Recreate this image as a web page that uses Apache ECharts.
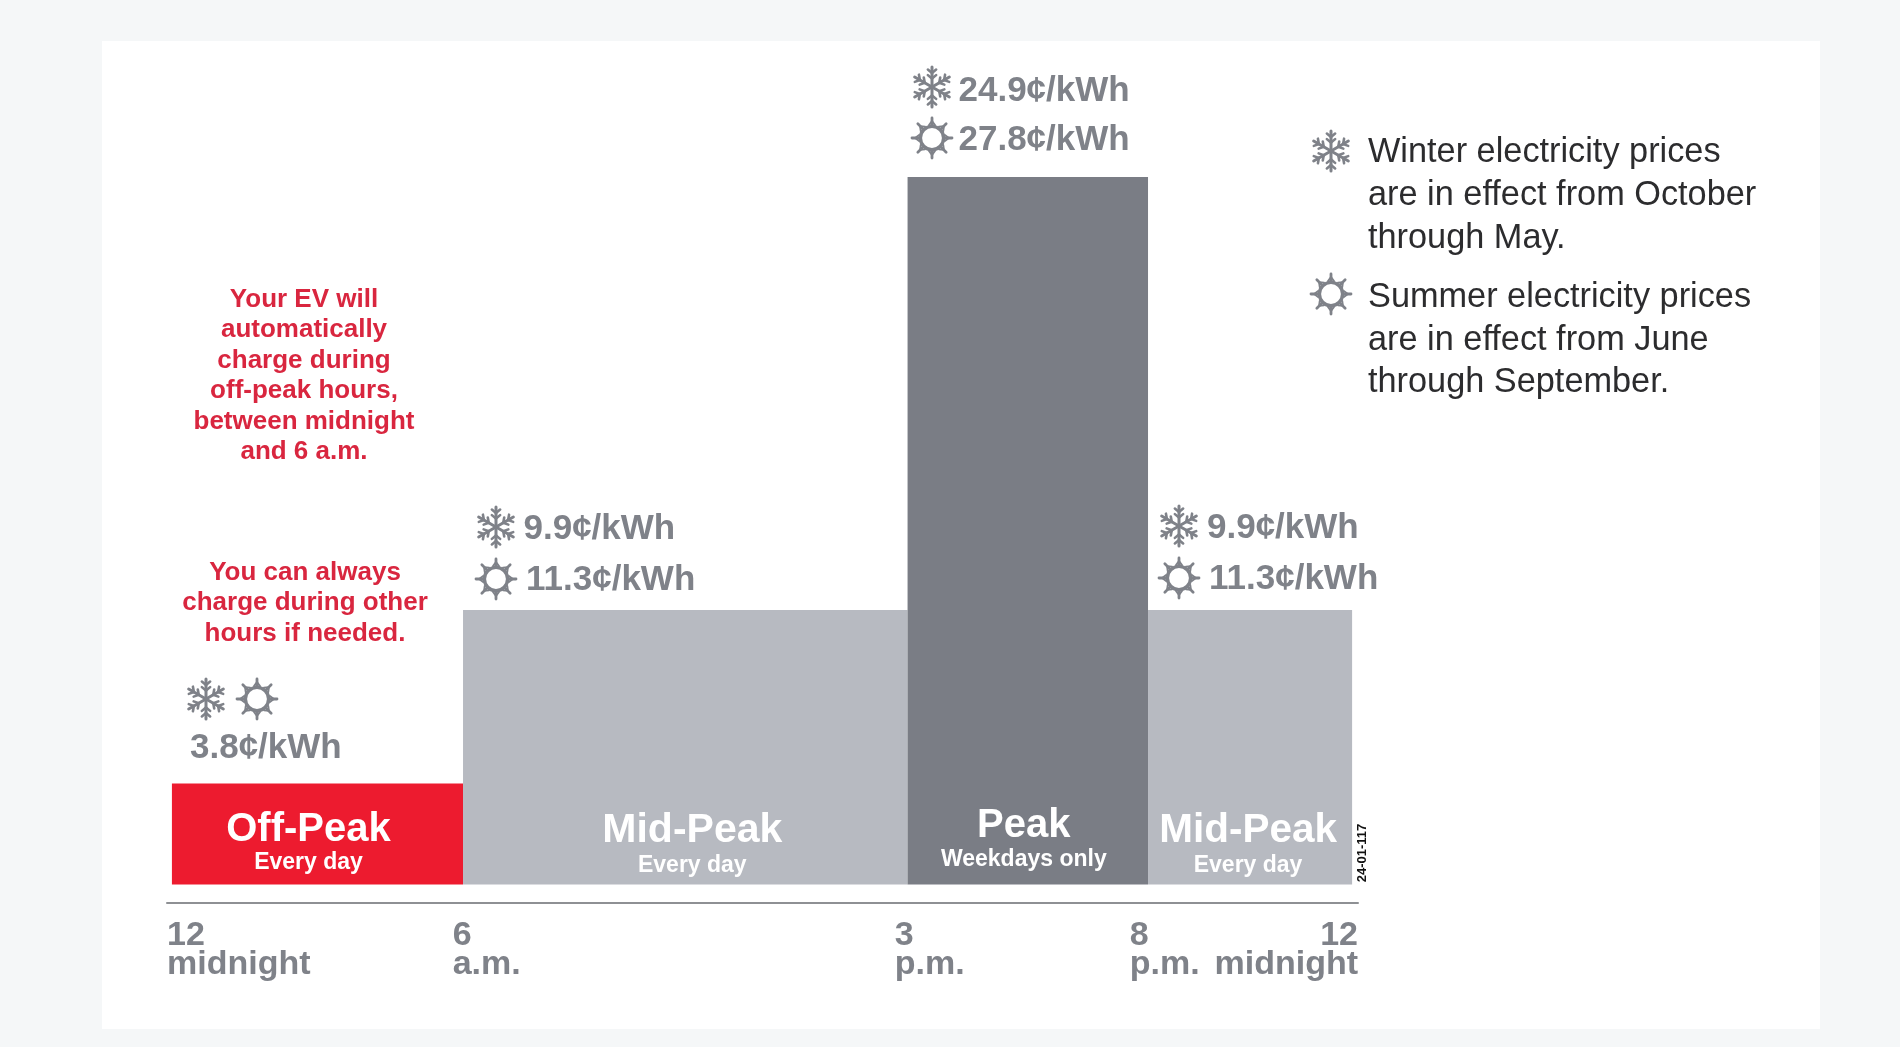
<!DOCTYPE html>
<html><head><meta charset="utf-8">
<style>html,body{margin:0;padding:0;background:#f5f7f8}#c{width:1900px;height:1047px}</style>
<script src="https://cdn.jsdelivr.net/npm/echarts@6/dist/echarts.min.js"></script>
</head><body><div id="c"></div>
<script>
// Segment edges in hours, as plotted in the picture
const segStart = [0, 5.92, 14.96, 19.85];
const segEnd = [5.92, 14.96, 19.85, 24];
// Unlabelled bar heights, read on a scale where the peak bar reaches the 27.8 price
const barHeight = [3.97, 10.79, 27.8, 10.79];
const segNames = ['Off-Peak', 'Mid-Peak', 'Peak', 'Mid-Peak'];
const segNotes = ['Every day', 'Every day', 'Weekdays only', 'Every day'];
// Tick labels and the hours where they start in the picture
const tickHours = [-0.1, 5.71, 14.7, 19.48, 24.12];
const tickLabels = ['12\nmidnight', '6\na.m.', '3\np.m.', '8\np.m.', '12\nmidnight'];
// Prices printed in the picture
const winterPrices = ['3.8¢/kWh', '9.9¢/kWh', '24.9¢/kWh', '9.9¢/kWh'];
const summerPrices = ['3.8¢/kWh', '11.3¢/kWh', '27.8¢/kWh', '11.3¢/kWh'];
const noteOne = 'Your EV will\nautomatically\ncharge during\noff-peak hours,\nbetween midnight\nand 6 a.m.';
const noteTwo = 'You can always\ncharge during other\nhours if needed.';
const legendWinter = 'Winter electricity prices\nare in effect from October\nthrough May.';
const legendSummer = 'Summer electricity prices\nare in effect from June\nthrough September.';
const figureCode = '24-01-117';

const FONT = '"Liberation Sans", Arial, sans-serif';
const GREY = '#7f8289';
const barColors = ['#ed1b2f', '#b7bac1', '#7a7d85', '#b7bac1'];
const nameDx = [-9, 7, -4, -2];
const nameUp = [55, 54, 59, 54];
const noteUp = [22, 19, 25, 19];
const nameSize = [40, 41, 40, 40.5];
const noteSize = [23, 23, 23, 23];

function seg(a, b, w) {
  return { type: 'line', shape: { x1: a[0], y1: a[1], x2: b[0], y2: b[1] },
    style: { stroke: GREY, lineWidth: w, lineCap: 'round' } };
}
function pol(r, deg) { const t = deg * Math.PI / 180; return [r * Math.cos(t), r * Math.sin(t)]; }
function snow(x, y, r) {
  const ch = [];
  for (let k = 0; k < 6; k++) {
    const d = 90 + k * 60;
    ch.push(seg([0, 0], pol(r, d), 3));
    [0.42, 0.7].forEach(f => {
      const base = pol(r * f, d);
      [-50, 50].forEach(o => {
        const tip = pol(r * 0.27, d + o);
        ch.push(seg(base, [base[0] + tip[0], base[1] + tip[1]], 2.6));
      });
    });
  }
  return { type: 'group', x, y, children: ch };
}
function sun(x, y, r) {
  const ch = [{ type: 'circle', shape: { cx: 0, cy: 0, r: r * 0.58 },
    style: { fill: 'none', stroke: GREY, lineWidth: 3.4 } }];
  for (let k = 0; k < 8; k++) {
    const d = k * 45;
    ch.push(seg(pol(r * 0.68, d), pol(r, d), 2.8));
    ch.push(seg(pol(r * 0.66, d - 13), pol(r * 0.84, d), 2));
    ch.push(seg(pol(r * 0.66, d + 13), pol(r * 0.84, d), 2));
  }
  return { type: 'group', x, y, children: ch };
}
function txt(text, x, y, font, fill, align, lineHeight, extra) {
  return Object.assign({ type: 'text', x, y,
    style: { text, font, fill, textAlign: align || 'left', textVerticalAlign: 'middle', lineHeight } }, extra || {});
}
const PRICE = 'bold 35px ' + FONT;
const RED = 'bold 26px ' + FONT;
const LEG = '34.3px ' + FONT;

const elements = [
  { type: 'rect', z: -10, shape: { x: 102, y: 41, width: 1718, height: 988 }, style: { fill: '#ffffff' } },
  txt(noteOne, 304, 376, RED, '#d9263f', 'center', 30.5),
  txt(noteTwo, 305, 603, RED, '#d9263f', 'center', 30.5),
  snow(206, 699, 20), sun(257, 699, 20),
  txt(winterPrices[0], 190, 748, PRICE, GREY),
  snow(496, 527, 20), sun(496, 579, 20),
  txt(winterPrices[1], 523.5, 529.5, PRICE, GREY),
  txt(summerPrices[1], 526, 580.5, PRICE, GREY),
  snow(932, 87, 20), sun(932, 138, 20),
  txt(winterPrices[2], 958.5, 91, PRICE, GREY),
  txt(summerPrices[2], 958.5, 140.5, PRICE, GREY),
  snow(1179, 526, 20), sun(1179, 578, 20),
  txt(winterPrices[3], 1207, 528.5, PRICE, GREY),
  txt(summerPrices[3], 1209, 579.5, PRICE, GREY),
  snow(1331, 151, 20), sun(1331, 294, 20),
  txt(legendWinter, 1368, 195.5, LEG, '#2c2c2e', 'left', 43),
  txt(legendSummer, 1368, 340.5, LEG, '#2c2c2e', 'left', 42.5),
  txt(figureCode, 1362, 853, 'bold 13px ' + FONT, '#111', 'center', 14, { rotation: Math.PI / 2 })
];

const chart = echarts.init(document.getElementById('c'), null, { renderer: 'canvas' });
chart.setOption({
  animation: false,
  backgroundColor: '#f5f7f8',
  grid: { left: 167, right: 542, top: 177, bottom: 162.5 },
  xAxis: {
    type: 'value', min: -0.1, max: 24.12, offset: 18.5,
    splitLine: { show: false }, axisTick: { show: false },
    axisLine: { show: true, onZero: false, lineStyle: { color: '#8e9094', width: 2 } },
    axisLabel: {
      customValues: tickHours, margin: 18, align: 'left', alignMaxLabel: 'right',
      fontFamily: FONT, fontWeight: 'bold', fontSize: 34,
      color: GREY, lineHeight: 29, showMinLabel: true, showMaxLabel: true, hideOverlap: false,
      formatter: (v, i) => tickLabels[tickHours.indexOf(v)] ?? ''
    }
  },
  yAxis: { type: 'value', min: 0, max: 27.8, show: false },
  series: [{
    type: 'custom', clip: false,
    encode: { x: [0, 1], y: 2 },
    data: segStart.map((s, i) => [s, segEnd[i], barHeight[i]]),
    renderItem(params, api) {
      const i = params.dataIndex;
      const a = api.coord([api.value(0), 0]);
      const b = api.coord([api.value(1), api.value(2)]);
      const cx = (a[0] + b[0]) / 2 + nameDx[i];
      return { type: 'group', children: [
        { type: 'rect', shape: { x: a[0], y: b[1], width: b[0] - a[0], height: a[1] - b[1] },
          style: { fill: barColors[i] } },
        { type: 'text', x: cx, y: a[1] - nameUp[i],
          style: { text: segNames[i], font: 'bold ' + nameSize[i] + 'px ' + FONT, fill: '#fff',
            textAlign: 'center', textVerticalAlign: 'middle' } },
        { type: 'text', x: cx, y: a[1] - noteUp[i],
          style: { text: segNotes[i], font: 'bold ' + noteSize[i] + 'px ' + FONT, fill: '#fff',
            textAlign: 'center', textVerticalAlign: 'middle' } }
      ] };
    }
  }],
  graphic: { elements }
});
</script></body></html>
